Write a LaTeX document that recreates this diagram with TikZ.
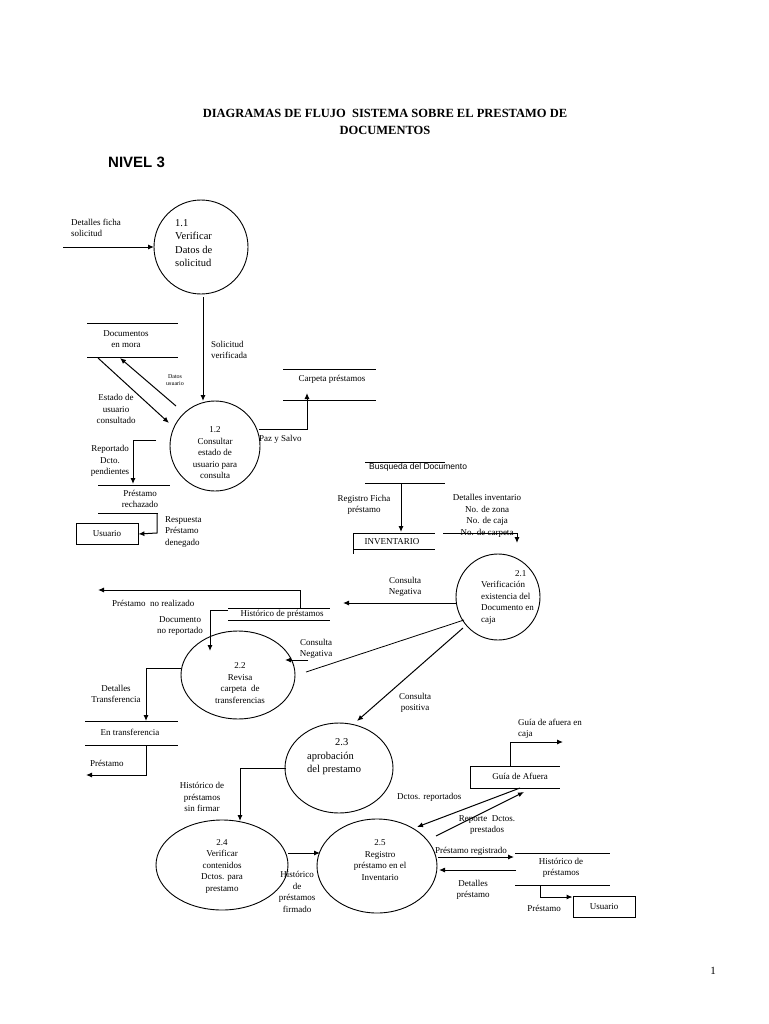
\documentclass[tikz,border=0pt]{standalone}
\usepackage{fontspec}
\setmainfont{Liberation Serif}
\newfontfamily\arialf{Liberation Sans}
\begin{document}
\begin{tikzpicture}[x=1pt,y=-1pt,
  every node/.style={font=\fontsize{9}{11.5}\selectfont, inner sep=0pt},
  proc/.style={draw, line width=0.9pt, ellipse, minimum width=#1},
  lbl/.style={align=center},
  lbll/.style={align=left, anchor=west},
  ln/.style={line width=0.8pt},
  ar/.style={line width=1pt, -{Latex[length=6pt,width=5pt]}},
  box/.style={draw, line width=0.8pt, minimum width=62pt, minimum height=21pt}]
\usetikzlibrary{arrows.meta,shapes.geometric}
\useasboundingbox (0,0) rectangle (768,1024);
\node[font=\bfseries\fontsize{12.5}{17}\selectfont, align=center] (title) at (385,122) {DIAGRAMAS DE FLUJO \ SISTEMA SOBRE EL PRESTAMO DE\\DOCUMENTOS};
\node[font=\arialf\bfseries\fontsize{15}{17}\selectfont, anchor=west] (nivel) at (108,162) {N\mbox{I}VEL 3};
% 1.1
\draw[line width=0.9pt] (201,247) circle (47);
\coordinate (p11) at (201,247);
\node[lbll,font=\fontsize{10.5}{13.5}\selectfont] (t11) at (175,243) {1.1\\Verificar\\Datos de\\solicitud};
\coordinate (a0) at (63,247); \coordinate (a1) at (154,247);
\draw[ar] (a0) -- (a1);
\node[lbll] (l1) at (71,228) {Detalles ficha\\solicitud};
\coordinate (b0) at (203,297); \coordinate (b1) at (203,401);
\draw[ar] (b0) -- (b1);
\node[lbll] (l2) at (211,350) {Solicitud\\verificada};
% 1.2
\draw[line width=0.9pt] (215,446) circle (45);
\node[lbl] (t12) at (215,453) {1.2\\Consultar\\estado de\\usuario para\\consulta};
% Documentos en mora
\draw[ln] (87,323) -- (178,323); \draw[ln] (87,357) -- (178,357);
\node[lbl] (dm) at (126,339) {Documentos\\en mora};
\coordinate (c0) at (98,358); \coordinate (c1) at (169,423);
\draw[ar] (c0) -- (c1);
\coordinate (d0) at (176,406); \coordinate (d1) at (120,358);
\draw[ar] (d0) -- (d1);
\node[lbl, font=\fontsize{6}{7}\selectfont] (du) at (175,380) {Datos\\usuario};
\node[lbl] (eu) at (116,409) {Estado de\\usuario\\consultado};
\coordinate (e0) at (156,440); \coordinate (e1) at (133,440); \coordinate (e2) at (133,484);
\draw[ar] (e0) -- (e1) -- (e2);
\node[lbl] (rp) at (110,461) {Reportado\\Dcto.\\pendientes};
\draw[ln] (98,485) -- (170,485); \draw[ln] (98,513) -- (158,513);
\node[lbl] (pr) at (140,499) {Préstamo\\rechazado};
\node[box] (us1) at (107,534) {Usuario};
\coordinate (f0) at (157,513); \coordinate (f1) at (157,533);
\draw[ar] (f0) -- (f1) -- (us1.east);
\node[lbll] (rd) at (165,532) {Respuesta\\Préstamo\\denegado};
% Carpeta prestamos
\draw[ln] (283,369) -- (376,369); \draw[ln] (283,400) -- (376,400);
\node (cp) at (332,379) {Carpeta préstamos};
\coordinate (g0) at (259,429); \coordinate (g1) at (307,429); \coordinate (g2) at (307,393);
\draw[ar] (g0) -- (g1) -- (g2);
\node[lbll] (ps) at (259,439) {Paz y Salvo};
% Busqueda
\draw[ln] (365,462) -- (445,462); \draw[ln] (365,483) -- (445,483);
\node[font=\arialf\fontsize{8.5}{10}\selectfont, anchor=west] (bd) at (369,467) {Busqueda del Documento};
\coordinate (h0) at (401,483); \coordinate (h1) at (401,532);
\draw[ar] (h0) -- (h1);
\node[lbl] (rf) at (364,505) {Registro Ficha\\préstamo};
\draw[ln] (353,533) -- (435,533); \draw[ln] (353,549) -- (435,549); \draw[ln] (353,533) -- (353,554);
\node (inv) at (392,542) {INVENTARIO};
\coordinate (i0) at (443,533); \coordinate (i1) at (517,533); \coordinate (i2) at (517,543);
\draw[ar] (i0) -- (i1) -- (i2);
\node[lbl] (di) at (487,516) {Detalles inventario\\No. de zona\\No. de caja\\No. de carpeta};
% 2.1
\draw[line width=0.9pt] (498,597) ellipse (42 and 43);
\node[lbll] (t21) at (481,597) {\hspace*{34pt}2.1\\Verificación\\existencia del\\Documento en\\caja};
\coordinate (j0) at (456,603); \coordinate (j1) at (343,603);
\draw[ar] (j0) -- (j1);
\node[lbl] (cn1) at (405,587) {Consulta\\Negativa};
% Historico
\draw[ln] (228,608) -- (330,608); \draw[ln] (228,620) -- (330,620);
\node (hp) at (282,614) {Histórico de préstamos};
\coordinate (k0) at (300,608); \coordinate (k1) at (300,590); \coordinate (k2) at (98,590);
\draw[ar] (k0) -- (k1) -- (k2);
\node[lbll] (pnr) at (112,603) {Préstamo \ no realizado};
\coordinate (m0) at (228,610); \coordinate (m1) at (210,610); \coordinate (m2) at (210,651);
\draw[ar] (m0) -- (m1) -- (m2);
\node[lbl] (dnr) at (180,626) {Documento\\no reportado};
% 2.2
\draw[line width=0.9pt] (238,675) ellipse (57 and 44);
\node[lbl] (t22) at (240,683) {2.2\\Revisa\\carpeta \ de\\transferencias};
\coordinate (n0) at (464,620); \coordinate (n1) at (306,672);
\draw[ln] (n0) -- (n1);
\coordinate (n2) at (308,660); \coordinate (n3) at (285,660);
\draw[ar] (n2) -- (n3);
\node[lbl] (cn2) at (316,649) {Consulta\\Negativa};
\coordinate (o0) at (181,668); \coordinate (o1) at (146,668); \coordinate (o2) at (146,721);
\draw[ar] (o0) -- (o1) -- (o2);
\node[lbl] (dt) at (116,694) {Detalles\\Transferencia};
\draw[ln] (85,721) -- (178,721); \draw[ln] (85,745) -- (178,745);
\node (et) at (130,732) {En transferencia};
\coordinate (q0) at (146,745); \coordinate (q1) at (146,775); \coordinate (q2) at (86,775);
\draw[ar] (q0) -- (q1) -- (q2);
\node[lbll] (pt) at (90,763) {Préstamo};
% consulta positiva
\coordinate (r0) at (463,628); \coordinate (r1) at (357,721);
\draw[ar] (r0) -- (r1);
\node[lbl] (cpos) at (415,703) {Consulta\\positiva};
% 2.3
\draw[line width=0.9pt] (339,768) ellipse (54 and 45);
\node[lbll,font=\fontsize{10.5}{13.5}\selectfont] (t23) at (307,757) {\hspace*{28pt}2.3\\aprobación\\del prestamo};
\coordinate (s0) at (286,768); \coordinate (s1) at (240,768); \coordinate (s2) at (240,821);
\draw[ar] (s0) -- (s1) -- (s2);
\node[lbl] (hsf) at (202,797) {Histórico de\\préstamos\\sin firmar};
% 2.4
\draw[line width=0.9pt] (222,865) ellipse (66 and 45);
\node[lbl] (t24) at (222,866) {2.4\\Verificar\\contenidos\\Dctos. para\\prestamo};
% 2.5
\draw[line width=0.9pt] (377,866) ellipse (60 and 47);
\node[lbl] (t25) at (380,860) {2.5\\Registro\\préstamo en el\\Inventario};
\coordinate (u0) at (288,853); \coordinate (u1) at (320,853);
\draw[ar] (u0) -- (u1);
\node[lbl] (hpf) at (297,892) {Histórico\\de\\préstamos\\firmado};
% Guia de afuera
\draw[ln] (470,766) -- (560,766); \draw[ln] (470,788) -- (560,788); \draw[ln] (470,766) -- (470,788);
\node (ga) at (520,776) {Guía de Afuera};
\coordinate (v0) at (510,766); \coordinate (v1) at (510,742); \coordinate (v2) at (563,742);
\draw[ar] (v0) -- (v1) -- (v2);
\node[lbll] (gac) at (518,729) {Guía de afuera en\\caja};
\coordinate (w0) at (520,788); \coordinate (w1) at (417,827);
\draw[ar] (w0) -- (w1);
\node[lbll] (dr) at (397,797) {Dctos. reportados};
\coordinate (x0) at (436,836); \coordinate (x1) at (524,792);
\draw[ar] (x0) -- (x1);
\node[lbl] (rdp) at (487,825) {Reporte \ Dctos.\\prestados};
% Historico 2
\draw[ln] (515,853) -- (610,853); \draw[ln] (515,885) -- (610,885);
\node[lbl] (hp2) at (561,868) {Histórico de\\préstamos};
\coordinate (y0) at (438,857); \coordinate (y1) at (514,857);
\draw[ar] (y0) -- (y1);
\node[lbll] (prg) at (435,851) {Préstamo registrado};
\coordinate (z0) at (516,870); \coordinate (z1) at (439,870);
\draw[ar] (z0) -- (z1);
\node[lbl] (dp) at (473,890) {Detalles\\préstamo};
\node[box] (us2) at (604,907) {Usuario};
\coordinate (aa0) at (540,885); \coordinate (aa1) at (540,897);
\draw[ar] (aa0) -- (aa1) -- (us2.west |- aa1);
\node (pt2) at (544,908) {Préstamo};
\node[font=\fontsize{11}{13}\selectfont] (pg) at (713,971) {1};
\end{tikzpicture}
\end{document}
